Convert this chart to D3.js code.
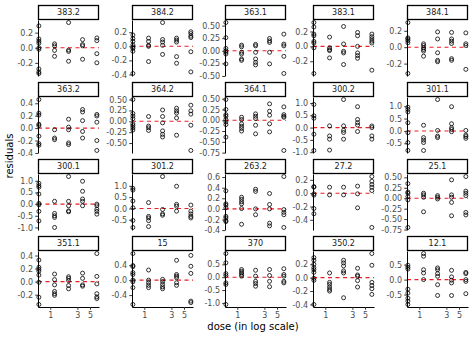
<!DOCTYPE html>
<html>
<head>
<meta charset="utf-8">
<script src="https://cdn.jsdelivr.net/npm/d3@7"></script>
<style>
  html, body { margin: 0; padding: 0; background: #fff; }
  svg { display: block; font-family: "DejaVu Sans", sans-serif; }
</style>
</head>
<body>
<svg id="chart" width="474" height="338"></svg>
<script>
// ---------- data ----------
const panelIds = ["383.2","384.2","363.1","383.1","384.1",
                  "363.2","364.2","364.1","300.2","301.1",
                  "300.1","301.2","263.2","27.2","25.1",
                  "351.1","15","370","350.2","12.1"];

const doses = [0.63, 1.19, 2.1, 3.7, 6.6];
const xTicks = [1, 3, 5];

// residuals per panel, one inner array per dose group
const res_383_2 = [[0.29,0.117,0.087,0.061,0.0,-0.02,-0.28,-0.32,-0.34],[0.052,0.026,-0.035,-0.113],[0.334,-0.03,-0.048,-0.178],[0.108,0.043,0.026,-0.152],[0.13,0.095,-0.078,-0.199]];
const res_384_2 = [[0.16,0.11,0.07,0.02,-0.01,-0.03,-0.07,-0.385],[0.116,0.069,0.014,0.0,-0.216],[0.337,0.097,0.061,0.014,-0.115],[0.116,0.088,0.06,-0.146,-0.24],[0.207,0.18,0.144,0.124,-0.077,-0.363]];
const res_363_1 = [[0.56,0.26,0.047,0.0,-0.03,-0.065,-0.26],[0.112,0.079,-0.03,-0.065,-0.163,-0.19],[0.126,0.098,-0.03,-0.163,-0.23,-0.28],[0.244,0.197,0.165,-0.03,-0.26],[0.33,0.132,0.098,-0.11,-0.45]];
const res_383_1 = [[0.32,0.26,0.165,0.143,0.067,0.045,-0.02,-0.364],[0.125,-0.02,-0.044,-0.057,-0.155],[0.267,0.032,-0.067,-0.088,-0.244],[0.187,0.143,0.0,-0.088,-0.124,-0.16],[0.165,0.13,0.1,0.07,0.045,-0.32]];
const res_384_1 = [[0.30,0.114,0.1,0.08,0.053,-0.32],[0.041,0.02,-0.007,-0.028,-0.048,-0.11],[0.186,0.1,-0.068,-0.16,-0.177],[0.18,0.1,0.073,0.045,-0.14,-0.16],[0.174,0.041,0.02,-0.27]];
const res_363_2 = [[0.46,0.24,0.21,0.063,0.04,-0.13,-0.25,-0.276],[-0.027,-0.16,-0.186],[0.143,0.016,-0.027,-0.238,-0.265],[0.3,0.26,0.12,-0.054,-0.16],[0.22,0.195,0.095,-0.2,-0.36]];
const res_364_2 = [[0.50,0.18,0.12,0.06,-0.06,-0.10,-0.15,-0.2],[0.11,-0.11,-0.15,-0.21],[0.26,0.11,-0.036,-0.22,-0.30,-0.36],[0.3,0.24,0.19,0.076,-0.32],[0.37,0.24,0.165,-0.09,-0.67]];
const res_364_1 = [[0.48,0.25,0.13,0.093,0.016,-0.037,-0.1,-0.39],[0.07,0.016,-0.083,-0.14,-0.19,-0.25],[0.148,0.093,0.039,-0.116,-0.315],[0.38,0.21,0.116,-0.083,-0.27],[0.31,0.13,0.093,0.07,-0.70]];
const res_300_2 = [[0.94,0.48,0.38,-0.27,-0.93],[0.07,-0.34,-0.47,-0.915],[1.14,0.07,-0.11,-0.2,-0.47],[0.85,0.33,0.2,0.1,-0.16],[0.065,0.0,-0.34,-0.47]];
const res_301_1 = [[0.96,0.87,0.77,0.33,-0.07,-0.47,-0.79],[0.23,-0.27,-0.37,-0.47,-0.79],[1.27,0.02,-0.21,-0.27],[0.98,0.29,0.13,0.06,-0.03],[0.02,-0.17,-0.23,-0.30]];
const res_300_1 = [[0.89,0.79,0.72,0.43,0.03,-0.03,-0.31,-0.72],[0.12,-0.4,-0.5,-0.57,-1.0],[1.18,0.12,-0.07,-0.29,-0.33],[0.98,0.55,0.22,0.12,-0.07],[0.0,-0.07,-0.22,-0.31,-0.43]];
const res_301_2 = [[0.89,0.81,0.33,0.03,-0.53,-0.84],[0.26,-0.35,-0.42,-0.54,-0.8],[1.41,-0.045,-0.24,-0.3],[0.98,0.18,0.1,-0.12],[0.15,-0.12,-0.24,-0.35,-0.42]];
const res_263_2 = [[0.34,0.096,0.07,0.02,-0.14,-0.17,-0.22,-0.24],[0.22,0.18,0.135,0.096,0.006,-0.29],[0.37,0.33,0.0,-0.11],[0.29,0.083,0.0,-0.27,-0.32],[0.61,-0.013,-0.065,-0.11,-0.35]];
const res_27_2  = [[0.10,0.09,-0.01,-0.03,-0.23,-0.31],[0.09,-0.026],[0.09,-0.026],[0.106,-0.01,-0.22],[0.25,0.18,0.13,0.09,0.04,-0.515]];
const res_25_1  = [[0.35,0.15,0.12,0.04,-0.04,-0.70],[0.12,0.08,0.024,-0.325],[0.063,0.024,-0.017],[0.44,0.08,0.024,-0.1,-0.42],[0.52,0.17,0.12,0.063,-0.34,-0.4]];
const res_351_1 = [[0.33,0.22,0.19,0.16,0.10,-0.01,-0.24,-0.35],[0.116,0.03,-0.05,-0.15,-0.185,-0.21],[0.075,0.05,0.015,-0.06,-0.11],[0.13,0.05,-0.05,-0.07],[0.43,0.08,-0.035,-0.185,-0.235,-0.26]];
const res_15    = [[0.71,0.39,0.36,0.2,0.15,0.0,-0.045,-0.2,-0.65],[0.27,0.0,-0.07,-0.14,-0.2],[0.02,-0.04,-0.115,-0.18,-0.23],[0.53,0.15,0.107,0.064,-0.07,-0.14],[0.66,0.37,0.18,-0.56,-0.6]];
const res_370   = [[0.92,0.56,0.14,0.066,-0.22,-0.285,-1.06],[0.3,0.23,0.17,0.105,0.04],[0.27,0.04,-0.16,-0.245,-0.35],[0.3,0.066,-0.16,-0.37],[0.33,0.105,0.04,-0.16,-0.22]];
const res_350_2 = [[0.3,0.26,0.2,0.15,0.12,0.08,-0.01,-0.04,-0.4],[0.07,-0.07,-0.1,-0.14,-0.175,-0.2],[0.26,0.22,0.175,0.1,0.07,-0.3],[0.14,0.04,0.02,-0.044,-0.14],[0.36,0.185,-0.07,-0.117,-0.165,-0.25]];
const res_12_1  = [[0.48,0.41,0.35,-0.32,-0.45,-0.62,-0.72,-0.83],[0.87,0.78,0.33,0.22,0.0],[0.39,0.33,0.2,0.11,-0.17,-0.53],[0.31,0.09,-0.02,-0.11,-0.53],[0.24,0.2,0.0,-0.06,-0.47]];

const residuals = [res_383_2,res_384_2,res_363_1,res_383_1,res_384_1,
                   res_363_2,res_364_2,res_364_1,res_300_2,res_301_1,
                   res_300_1,res_301_2,res_263_2,res_27_2,res_25_1,
                   res_351_1,res_15,res_370,res_350_2,res_12_1];

// y tick labels per panel
const yTickLabels = [
  ["0.2","0.0","-0.2"], ["0.2","0.0","-0.2","-0.4"], ["0.50","0.25","0.00","-0.25","-0.50"], ["0.2","0.0","-0.2"], ["0.2","0.0","-0.2"],
  ["0.4","0.2","0.0","-0.2","-0.4"], ["0.50","0.25","0.00","-0.25","-0.50"], ["0.50","0.25","0.00","-0.25","-0.50","-0.75"], ["1.0","0.5","0.0","-0.5","-1.0"], ["1.0","0.5","0.0","-0.5"],
  ["1.0","0.5","0.0","-0.5","-1.0"], ["1.0","0.5","0.0","-0.5"], ["0.6","0.4","0.2","0.0","-0.2","-0.4"], ["0.2","0.0","-0.2","-0.4"], ["0.50","0.25","0.00","-0.25","-0.50","-0.75"],
  ["0.4","0.2","0.0","-0.2"], ["0.4","0.0","-0.4"], ["0.5","0.0","-0.5","-1.0"], ["0.2","0.0","-0.2","-0.4"], ["0.5","0.0","-0.5"]
];

// ---------- layout ----------
const svg = d3.select("#chart");
svg.append("rect").attr("width", 474).attr("height", 338).attr("fill", "#fff");

const colLeft = [38, 132, 225, 313, 407];
const panelW = 61, panelH = 56, stripH = 15, rowStep = 77, firstStrip = 5;
const fontFam = "'DejaVu Sans', sans-serif";

panelIds.forEach((id, i) => {
  const col = i % 5, row = Math.floor(i / 5);
  const left = colLeft[col];
  const stripTop = firstStrip + row * rowStep;
  const top = stripTop + stripH;
  const bottom = top + panelH;

  const groups = residuals[i];
  const all = groups.flat();
  const [mn, mx] = d3.extent(all);
  const pad = (mx - mn) * 0.05;

  const x = d3.scaleLog().domain([0.608, 7.2]).range([left, left + panelW]);
  const y = d3.scaleLinear().domain([mn - pad, mx + pad]).range([bottom, top]);

  const g = svg.append("g");

  // strip
  g.append("rect")
    .attr("x", left + 0.5).attr("y", stripTop + 0.5)
    .attr("width", panelW - 1).attr("height", stripH - 1)
    .attr("fill", "#fff").attr("stroke", "#000").attr("stroke-width", 1.3);
  g.append("text")
    .attr("x", left + panelW / 2).attr("y", stripTop + 10.3)
    .attr("text-anchor", "middle")
    .attr("font-size", 8).attr("fill", "#1A1A1A")
    .attr("font-family", fontFam)
    .text(id);

  // reference line at zero
  g.append("line")
    .attr("x1", x.range()[0]).attr("x2", x.range()[1])
    .attr("y1", y(0)).attr("y2", y(0))
    .attr("stroke", "#ee1c25").attr("stroke-width", 1.1)
    .attr("stroke-dasharray", "4,3.5");

  // points
  const pts = [];
  groups.forEach((vals, gi) => vals.forEach(v => pts.push({d: doses[gi], r: v})));
  g.selectAll("circle.pt").data(pts).enter().append("circle")
    .attr("class", "pt")
    .attr("cx", d => x(d.d)).attr("cy", d => y(d.r))
    .attr("r", 2)
    .attr("fill", "none").attr("stroke", "#000").attr("stroke-width", 0.8);

  // y axis
  const labels = yTickLabels[i];
  const yAxis = d3.axisLeft(y)
    .tickValues(labels.map(Number))
    .tickFormat((d, k) => labels[k])
    .tickSize(2.75).tickSizeOuter(0).tickPadding(2.2);
  const ya = g.append("g").attr("transform", `translate(${left},0)`).call(yAxis);
  ya.select(".domain").attr("stroke", "#000").attr("stroke-width", 1);
  ya.selectAll(".tick line").attr("stroke", "#333").attr("stroke-width", 1);
  ya.selectAll(".tick text").attr("fill", "#4D4D4D").attr("font-size", 8).attr("font-family", fontFam);

  // x axis only on bottom row
  if (row === 3) {
    const xAxis = d3.axisBottom(x).tickValues(xTicks).tickFormat(d3.format("d"))
      .tickSize(2.75).tickSizeOuter(0).tickPadding(2.2);
    const xa = g.append("g").attr("transform", `translate(0,${bottom})`).call(xAxis);
    xa.select(".domain").attr("stroke", "#000").attr("stroke-width", 1);
    xa.selectAll(".tick line").attr("stroke", "#333").attr("stroke-width", 1);
    xa.selectAll(".tick text").attr("fill", "#4D4D4D").attr("font-size", 8).attr("font-family", fontFam);
  }
});

// axis titles
svg.append("text")
  .attr("x", (colLeft[0] + colLeft[4] + panelW) / 2).attr("y", 329.7)
  .attr("text-anchor", "middle").attr("font-size", 10).attr("fill", "#000")
  .attr("font-family", fontFam)
  .text("dose (in log scale)");
svg.append("text")
  .attr("transform", `translate(13.3,${(firstStrip + 3 * rowStep + stripH + panelH + firstStrip) / 2}) rotate(-90)`)
  .attr("text-anchor", "middle").attr("font-size", 10).attr("fill", "#000")
  .attr("font-family", fontFam)
  .text("residuals");
</script>
</body>
</html>
